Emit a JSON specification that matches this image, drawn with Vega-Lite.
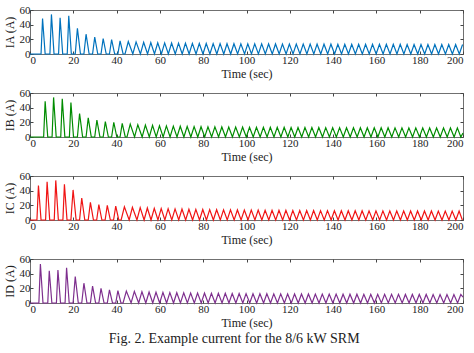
{
"$schema":"https://vega.github.io/schema/vega-lite/v6.json",
"padding":{"left":2,"top":3,"right":8,"bottom":0},
"spacing":6,
"config":{"font":"Liberation Serif","view":{"stroke":"#707070","strokeWidth":1},
"axis":{"grid":false,"domain":false,"labelFont":"Liberation Serif","labelFontSize":11,"labelColor":"#222","titleFont":"Liberation Serif","titleFontSize":12,"titleFontWeight":"normal","titleColor":"#222","tickColor":"#444","tickSize":-3,"labelPadding":3,"titlePadding":3}},
"title":{"text":"Fig. 2. Example current for the 8/6 kW SRM","orient":"bottom","anchor":"middle","font":"Liberation Serif","fontSize":14,"fontWeight":"normal","color":"#222","offset":3},
"data":{"values":[
{"p":"A","t":0,"y":0},{"p":"A","t":5.1,"y":0},{"p":"A","t":5.8,"y":48.5},{"p":"A","t":7.0,"y":0},{"p":"A","t":9.2,"y":0},{"p":"A","t":9.9,"y":54},{"p":"A","t":11.1,"y":0},{"p":"A","t":13.2,"y":0},{"p":"A","t":13.9,"y":49.5},{"p":"A","t":15.1,"y":0},{"p":"A","t":17.2,"y":0},{"p":"A","t":17.9,"y":52},{"p":"A","t":19.1,"y":0},{"p":"A","t":20.9,"y":0},{"p":"A","t":21.9,"y":35},{"p":"A","t":23.3,"y":0},{"p":"A","t":24.9,"y":0},{"p":"A","t":25.9,"y":27},{"p":"A","t":27.3,"y":0},{"p":"A","t":28.9,"y":0},{"p":"A","t":29.9,"y":23},{"p":"A","t":31.3,"y":0},{"p":"A","t":32.8,"y":0},{"p":"A","t":33.8,"y":21},{"p":"A","t":35.2,"y":0},{"p":"A","t":36.7,"y":0},{"p":"A","t":37.7,"y":19.5},{"p":"A","t":39.1,"y":0},{"p":"A","t":40.6,"y":0},{"p":"A","t":41.6,"y":18},{"p":"A","t":43.0,"y":0},
{"p":"A","t":43.9,"y":0},{"p":"A","t":45.4,"y":17},{"p":"A","t":47.5,"y":0},{"p":"A","t":49.0,"y":16.5},{"p":"A","t":51.0,"y":0},{"p":"A","t":52.5,"y":16},{"p":"A","t":54.3,"y":0},{"p":"A","t":55.8,"y":15.6},{"p":"A","t":57.5,"y":0},{"p":"A","t":59.0,"y":15.3},
{"p":"A","t":60.7,"y":0},{"p":"A","t":62.2,"y":15.1},{"p":"A","t":63.9,"y":0},{"p":"A","t":65.4,"y":15},{"p":"A","t":67.1,"y":0},{"p":"A","t":68.6,"y":14.8},{"p":"A","t":70.3,"y":0},{"p":"A","t":71.8,"y":14.6},{"p":"A","t":73.5,"y":0},{"p":"A","t":75.0,"y":14.5},{"p":"A","t":76.7,"y":0},{"p":"A","t":78.2,"y":14.4},{"p":"A","t":79.9,"y":0},{"p":"A","t":81.4,"y":14.3},{"p":"A","t":83.1,"y":0},{"p":"A","t":84.6,"y":14.2},{"p":"A","t":86.3,"y":0},{"p":"A","t":87.8,"y":14.1},{"p":"A","t":89.5,"y":0},{"p":"A","t":91.0,"y":14},{"p":"A","t":92.7,"y":0},{"p":"A","t":94.2,"y":14},{"p":"A","t":95.9,"y":0},{"p":"A","t":97.4,"y":13.9},{"p":"A","t":99.1,"y":0},{"p":"A","t":100.6,"y":13.9},{"p":"A","t":102.3,"y":0},{"p":"A","t":103.8,"y":13.8},{"p":"A","t":105.5,"y":0},{"p":"A","t":107.0,"y":13.8},{"p":"A","t":108.7,"y":0},{"p":"A","t":110.2,"y":13.7},{"p":"A","t":111.9,"y":0},{"p":"A","t":113.4,"y":13.7},{"p":"A","t":115.1,"y":0},{"p":"A","t":116.6,"y":13.6},{"p":"A","t":118.3,"y":0},{"p":"A","t":119.8,"y":13.6},{"p":"A","t":121.5,"y":0},{"p":"A","t":123.0,"y":13.5},{"p":"A","t":124.7,"y":0},{"p":"A","t":126.2,"y":13.5},{"p":"A","t":127.9,"y":0},{"p":"A","t":129.4,"y":13.5},{"p":"A","t":131.1,"y":0},{"p":"A","t":132.6,"y":13.4},{"p":"A","t":134.3,"y":0},{"p":"A","t":135.8,"y":13.4},{"p":"A","t":137.5,"y":0},{"p":"A","t":139.0,"y":13.4},{"p":"A","t":140.7,"y":0},{"p":"A","t":142.2,"y":13.3},{"p":"A","t":143.9,"y":0},{"p":"A","t":145.4,"y":13.3},{"p":"A","t":147.1,"y":0},{"p":"A","t":148.6,"y":13.3},{"p":"A","t":150.3,"y":0},{"p":"A","t":151.8,"y":13.2},{"p":"A","t":153.5,"y":0},{"p":"A","t":155.0,"y":13.2},{"p":"A","t":156.7,"y":0},{"p":"A","t":158.2,"y":13.2},{"p":"A","t":159.9,"y":0},{"p":"A","t":161.4,"y":13.1},{"p":"A","t":163.1,"y":0},{"p":"A","t":164.6,"y":13.1},{"p":"A","t":166.3,"y":0},{"p":"A","t":167.8,"y":13.1},{"p":"A","t":169.5,"y":0},{"p":"A","t":171.0,"y":13.1},{"p":"A","t":172.7,"y":0},{"p":"A","t":174.2,"y":13},{"p":"A","t":175.9,"y":0},{"p":"A","t":177.4,"y":13},{"p":"A","t":179.1,"y":0},{"p":"A","t":180.6,"y":13},{"p":"A","t":182.3,"y":0},{"p":"A","t":183.8,"y":13},{"p":"A","t":185.5,"y":0},{"p":"A","t":187.0,"y":13},{"p":"A","t":188.7,"y":0},{"p":"A","t":190.2,"y":12.9},{"p":"A","t":191.9,"y":0},{"p":"A","t":193.4,"y":12.9},{"p":"A","t":195.1,"y":0},{"p":"A","t":196.6,"y":12.9},{"p":"A","t":198.3,"y":0},{"p":"A","t":199.8,"y":12.9},
{"p":"B","t":0,"y":0},{"p":"B","t":6.3,"y":0},{"p":"B","t":7.0,"y":48.6},{"p":"B","t":8.2,"y":0},{"p":"B","t":10.2,"y":0},{"p":"B","t":10.9,"y":54},{"p":"B","t":12.1,"y":0},{"p":"B","t":14.2,"y":0},{"p":"B","t":14.9,"y":52},{"p":"B","t":16.1,"y":0},{"p":"B","t":18.2,"y":0},{"p":"B","t":18.9,"y":47},{"p":"B","t":20.1,"y":0},{"p":"B","t":21.9,"y":0},{"p":"B","t":22.9,"y":32},{"p":"B","t":24.3,"y":0},{"p":"B","t":25.9,"y":0},{"p":"B","t":26.9,"y":26},{"p":"B","t":28.3,"y":0},{"p":"B","t":29.9,"y":0},{"p":"B","t":30.9,"y":23},{"p":"B","t":32.3,"y":0},{"p":"B","t":33.8,"y":0},{"p":"B","t":34.8,"y":21},{"p":"B","t":36.2,"y":0},{"p":"B","t":37.7,"y":0},{"p":"B","t":38.7,"y":20},{"p":"B","t":40.1,"y":0},{"p":"B","t":41.6,"y":0},{"p":"B","t":42.6,"y":18.5},{"p":"B","t":44.0,"y":0},
{"p":"B","t":44.8,"y":0},{"p":"B","t":46.3,"y":17.5},{"p":"B","t":48.3,"y":0},{"p":"B","t":49.8,"y":16.8},{"p":"B","t":51.8,"y":0},{"p":"B","t":53.3,"y":16.2},{"p":"B","t":55.1,"y":0},{"p":"B","t":56.6,"y":15.8},{"p":"B","t":58.3,"y":0},{"p":"B","t":59.8,"y":15.4},
{"p":"B","t":61.5,"y":0},{"p":"B","t":63.0,"y":15.1},{"p":"B","t":64.7,"y":0},{"p":"B","t":66.2,"y":14.8},{"p":"B","t":67.9,"y":0},{"p":"B","t":69.4,"y":14.6},{"p":"B","t":71.1,"y":0},{"p":"B","t":72.6,"y":14.4},{"p":"B","t":74.3,"y":0},{"p":"B","t":75.8,"y":14.2},{"p":"B","t":77.5,"y":0},{"p":"B","t":79.0,"y":14.0},{"p":"B","t":80.7,"y":0},{"p":"B","t":82.2,"y":13.9},{"p":"B","t":83.9,"y":0},{"p":"B","t":85.4,"y":13.8},{"p":"B","t":87.1,"y":0},{"p":"B","t":88.6,"y":13.7},{"p":"B","t":90.3,"y":0},{"p":"B","t":91.8,"y":13.6},{"p":"B","t":93.5,"y":0},{"p":"B","t":95.0,"y":13.5},{"p":"B","t":96.7,"y":0},{"p":"B","t":98.2,"y":13.4},{"p":"B","t":99.9,"y":0},{"p":"B","t":101.4,"y":13.3},{"p":"B","t":103.1,"y":0},{"p":"B","t":104.6,"y":13.3},{"p":"B","t":106.3,"y":0},{"p":"B","t":107.8,"y":13.2},{"p":"B","t":109.5,"y":0},{"p":"B","t":111.0,"y":13.2},{"p":"B","t":112.7,"y":0},{"p":"B","t":114.2,"y":13.1},{"p":"B","t":115.9,"y":0},{"p":"B","t":117.4,"y":13.1},{"p":"B","t":119.1,"y":0},{"p":"B","t":120.6,"y":13.0},{"p":"B","t":122.3,"y":0},{"p":"B","t":123.8,"y":13.0},{"p":"B","t":125.5,"y":0},{"p":"B","t":127.0,"y":12.9},{"p":"B","t":128.7,"y":0},{"p":"B","t":130.2,"y":12.9},{"p":"B","t":131.9,"y":0},{"p":"B","t":133.4,"y":12.9},{"p":"B","t":135.1,"y":0},{"p":"B","t":136.6,"y":12.8},{"p":"B","t":138.3,"y":0},{"p":"B","t":139.8,"y":12.8},{"p":"B","t":141.5,"y":0},{"p":"B","t":143.0,"y":12.8},{"p":"B","t":144.7,"y":0},{"p":"B","t":146.2,"y":12.7},{"p":"B","t":147.9,"y":0},{"p":"B","t":149.4,"y":12.7},{"p":"B","t":151.1,"y":0},{"p":"B","t":152.6,"y":12.7},{"p":"B","t":154.3,"y":0},{"p":"B","t":155.8,"y":12.6},{"p":"B","t":157.5,"y":0},{"p":"B","t":159.0,"y":12.6},{"p":"B","t":160.7,"y":0},{"p":"B","t":162.2,"y":12.6},{"p":"B","t":163.9,"y":0},{"p":"B","t":165.4,"y":12.6},{"p":"B","t":167.1,"y":0},{"p":"B","t":168.6,"y":12.5},{"p":"B","t":170.3,"y":0},{"p":"B","t":171.8,"y":12.5},{"p":"B","t":173.5,"y":0},{"p":"B","t":175.0,"y":12.5},{"p":"B","t":176.7,"y":0},{"p":"B","t":178.2,"y":12.5},{"p":"B","t":179.9,"y":0},{"p":"B","t":181.4,"y":12.5},{"p":"B","t":183.1,"y":0},{"p":"B","t":184.6,"y":12.4},{"p":"B","t":186.3,"y":0},{"p":"B","t":187.8,"y":12.4},{"p":"B","t":189.5,"y":0},{"p":"B","t":191.0,"y":12.4},{"p":"B","t":192.7,"y":0},{"p":"B","t":194.2,"y":12.4},{"p":"B","t":195.9,"y":0},{"p":"B","t":197.4,"y":12.4},{"p":"B","t":199.0,"y":0},{"p":"B","t":200,"y":5.5},
{"p":"C","t":0,"y":0},{"p":"C","t":3.2,"y":0},{"p":"C","t":3.9,"y":47},{"p":"C","t":5.1,"y":0},{"p":"C","t":7.2,"y":0},{"p":"C","t":7.9,"y":52},{"p":"C","t":9.1,"y":0},{"p":"C","t":11.2,"y":0},{"p":"C","t":11.9,"y":54},{"p":"C","t":13.1,"y":0},{"p":"C","t":15.2,"y":0},{"p":"C","t":15.9,"y":48.6},{"p":"C","t":17.1,"y":0},{"p":"C","t":18.9,"y":0},{"p":"C","t":19.9,"y":41},{"p":"C","t":21.3,"y":0},{"p":"C","t":22.9,"y":0},{"p":"C","t":23.9,"y":30},{"p":"C","t":25.3,"y":0},{"p":"C","t":26.9,"y":0},{"p":"C","t":27.9,"y":24},{"p":"C","t":29.3,"y":0},{"p":"C","t":30.8,"y":0},{"p":"C","t":31.8,"y":21},{"p":"C","t":33.2,"y":0},{"p":"C","t":34.7,"y":0},{"p":"C","t":35.7,"y":20},{"p":"C","t":37.1,"y":0},{"p":"C","t":38.6,"y":0},{"p":"C","t":39.6,"y":19},{"p":"C","t":41.0,"y":0},
{"p":"C","t":42.1,"y":0},{"p":"C","t":43.6,"y":18},{"p":"C","t":45.8,"y":0},{"p":"C","t":47.3,"y":17.3},{"p":"C","t":49.4,"y":0},{"p":"C","t":50.9,"y":16.8},{"p":"C","t":52.7,"y":0},{"p":"C","t":54.2,"y":16.4},{"p":"C","t":55.9,"y":0},{"p":"C","t":57.4,"y":16},
{"p":"C","t":59.1,"y":0},{"p":"C","t":60.6,"y":15.7},{"p":"C","t":62.3,"y":0},{"p":"C","t":63.8,"y":15.4},{"p":"C","t":65.5,"y":0},{"p":"C","t":67.0,"y":15.1},{"p":"C","t":68.7,"y":0},{"p":"C","t":70.2,"y":14.9},{"p":"C","t":71.9,"y":0},{"p":"C","t":73.4,"y":14.7},{"p":"C","t":75.1,"y":0},{"p":"C","t":76.6,"y":14.5},{"p":"C","t":78.3,"y":0},{"p":"C","t":79.8,"y":14.3},{"p":"C","t":81.5,"y":0},{"p":"C","t":83.0,"y":14.1},{"p":"C","t":84.7,"y":0},{"p":"C","t":86.2,"y":14.0},{"p":"C","t":87.9,"y":0},{"p":"C","t":89.4,"y":13.9},{"p":"C","t":91.1,"y":0},{"p":"C","t":92.6,"y":13.8},{"p":"C","t":94.3,"y":0},{"p":"C","t":95.8,"y":13.7},{"p":"C","t":97.5,"y":0},{"p":"C","t":99.0,"y":13.6},{"p":"C","t":100.7,"y":0},{"p":"C","t":102.2,"y":13.5},{"p":"C","t":103.9,"y":0},{"p":"C","t":105.4,"y":13.4},{"p":"C","t":107.1,"y":0},{"p":"C","t":108.6,"y":13.3},{"p":"C","t":110.3,"y":0},{"p":"C","t":111.8,"y":13.2},{"p":"C","t":113.5,"y":0},{"p":"C","t":115.0,"y":13.2},{"p":"C","t":116.7,"y":0},{"p":"C","t":118.2,"y":13.1},{"p":"C","t":119.9,"y":0},{"p":"C","t":121.4,"y":13.0},{"p":"C","t":123.1,"y":0},{"p":"C","t":124.6,"y":13.0},{"p":"C","t":126.3,"y":0},{"p":"C","t":127.8,"y":12.9},{"p":"C","t":129.5,"y":0},{"p":"C","t":131.0,"y":12.9},{"p":"C","t":132.7,"y":0},{"p":"C","t":134.2,"y":12.8},{"p":"C","t":135.9,"y":0},{"p":"C","t":137.4,"y":12.8},{"p":"C","t":139.1,"y":0},{"p":"C","t":140.6,"y":12.7},{"p":"C","t":142.3,"y":0},{"p":"C","t":143.8,"y":12.7},{"p":"C","t":145.5,"y":0},{"p":"C","t":147.0,"y":12.6},{"p":"C","t":148.7,"y":0},{"p":"C","t":150.2,"y":12.6},{"p":"C","t":151.9,"y":0},{"p":"C","t":153.4,"y":12.6},{"p":"C","t":155.1,"y":0},{"p":"C","t":156.6,"y":12.5},{"p":"C","t":158.3,"y":0},{"p":"C","t":159.8,"y":12.5},{"p":"C","t":161.5,"y":0},{"p":"C","t":163.0,"y":12.5},{"p":"C","t":164.7,"y":0},{"p":"C","t":166.2,"y":12.4},{"p":"C","t":167.9,"y":0},{"p":"C","t":169.4,"y":12.4},{"p":"C","t":171.1,"y":0},{"p":"C","t":172.6,"y":12.4},{"p":"C","t":174.3,"y":0},{"p":"C","t":175.8,"y":12.3},{"p":"C","t":177.5,"y":0},{"p":"C","t":179.0,"y":12.3},{"p":"C","t":180.7,"y":0},{"p":"C","t":182.2,"y":12.3},{"p":"C","t":183.9,"y":0},{"p":"C","t":185.4,"y":12.3},{"p":"C","t":187.1,"y":0},{"p":"C","t":188.6,"y":12.2},{"p":"C","t":190.3,"y":0},{"p":"C","t":191.8,"y":12.2},{"p":"C","t":193.5,"y":0},{"p":"C","t":195.0,"y":12.2},{"p":"C","t":196.7,"y":0},{"p":"C","t":198.2,"y":12.2},{"p":"C","t":199.7,"y":0},
{"p":"D","t":0,"y":0},{"p":"D","t":4.1,"y":0},{"p":"D","t":4.8,"y":53},{"p":"D","t":6.0,"y":0},{"p":"D","t":8.2,"y":0},{"p":"D","t":8.9,"y":44},{"p":"D","t":10.1,"y":0},{"p":"D","t":12.2,"y":0},{"p":"D","t":12.9,"y":45},{"p":"D","t":14.1,"y":0},{"p":"D","t":16.2,"y":0},{"p":"D","t":16.9,"y":48},{"p":"D","t":18.1,"y":0},{"p":"D","t":19.9,"y":0},{"p":"D","t":20.9,"y":36},{"p":"D","t":22.3,"y":0},{"p":"D","t":23.9,"y":0},{"p":"D","t":24.9,"y":27},{"p":"D","t":26.3,"y":0},{"p":"D","t":27.9,"y":0},{"p":"D","t":28.9,"y":23},{"p":"D","t":30.3,"y":0},{"p":"D","t":31.8,"y":0},{"p":"D","t":32.8,"y":20},{"p":"D","t":34.2,"y":0},{"p":"D","t":35.7,"y":0},{"p":"D","t":36.7,"y":18},{"p":"D","t":38.1,"y":0},{"p":"D","t":39.6,"y":0},{"p":"D","t":40.6,"y":17},{"p":"D","t":42.0,"y":0},
{"p":"D","t":43.0,"y":0},{"p":"D","t":44.5,"y":16.3},{"p":"D","t":46.7,"y":0},{"p":"D","t":48.2,"y":15.8},{"p":"D","t":50.2,"y":0},{"p":"D","t":51.7,"y":15.4},{"p":"D","t":53.5,"y":0},{"p":"D","t":55.0,"y":15},{"p":"D","t":56.7,"y":0},{"p":"D","t":58.2,"y":14.7},
{"p":"D","t":59.9,"y":0},{"p":"D","t":61.4,"y":14.4},{"p":"D","t":63.1,"y":0},{"p":"D","t":64.6,"y":14.2},{"p":"D","t":66.3,"y":0},{"p":"D","t":67.8,"y":14.0},{"p":"D","t":69.5,"y":0},{"p":"D","t":71.0,"y":13.8},{"p":"D","t":72.7,"y":0},{"p":"D","t":74.2,"y":13.6},{"p":"D","t":75.9,"y":0},{"p":"D","t":77.4,"y":13.5},{"p":"D","t":79.1,"y":0},{"p":"D","t":80.6,"y":13.4},{"p":"D","t":82.3,"y":0},{"p":"D","t":83.8,"y":13.3},{"p":"D","t":85.5,"y":0},{"p":"D","t":87.0,"y":13.2},{"p":"D","t":88.7,"y":0},{"p":"D","t":90.2,"y":13.1},{"p":"D","t":91.9,"y":0},{"p":"D","t":93.4,"y":13.0},{"p":"D","t":95.1,"y":0},{"p":"D","t":96.6,"y":12.9},{"p":"D","t":98.3,"y":0},{"p":"D","t":99.8,"y":12.8},{"p":"D","t":101.5,"y":0},{"p":"D","t":103.0,"y":12.7},{"p":"D","t":104.7,"y":0},{"p":"D","t":106.2,"y":12.7},{"p":"D","t":107.9,"y":0},{"p":"D","t":109.4,"y":12.6},{"p":"D","t":111.1,"y":0},{"p":"D","t":112.6,"y":12.5},{"p":"D","t":114.3,"y":0},{"p":"D","t":115.8,"y":12.5},{"p":"D","t":117.5,"y":0},{"p":"D","t":119.0,"y":12.4},{"p":"D","t":120.7,"y":0},{"p":"D","t":122.2,"y":12.4},{"p":"D","t":123.9,"y":0},{"p":"D","t":125.4,"y":12.3},{"p":"D","t":127.1,"y":0},{"p":"D","t":128.6,"y":12.3},{"p":"D","t":130.3,"y":0},{"p":"D","t":131.8,"y":12.2},{"p":"D","t":133.5,"y":0},{"p":"D","t":135.0,"y":12.2},{"p":"D","t":136.7,"y":0},{"p":"D","t":138.2,"y":12.1},{"p":"D","t":139.9,"y":0},{"p":"D","t":141.4,"y":12.1},{"p":"D","t":143.1,"y":0},{"p":"D","t":144.6,"y":12.0},{"p":"D","t":146.3,"y":0},{"p":"D","t":147.8,"y":12.0},{"p":"D","t":149.5,"y":0},{"p":"D","t":151.0,"y":12.0},{"p":"D","t":152.7,"y":0},{"p":"D","t":154.2,"y":11.9},{"p":"D","t":155.9,"y":0},{"p":"D","t":157.4,"y":11.9},{"p":"D","t":159.1,"y":0},{"p":"D","t":160.6,"y":11.9},{"p":"D","t":162.3,"y":0},{"p":"D","t":163.8,"y":11.8},{"p":"D","t":165.5,"y":0},{"p":"D","t":167.0,"y":11.8},{"p":"D","t":168.7,"y":0},{"p":"D","t":170.2,"y":11.8},{"p":"D","t":171.9,"y":0},{"p":"D","t":173.4,"y":11.7},{"p":"D","t":175.1,"y":0},{"p":"D","t":176.6,"y":11.7},{"p":"D","t":178.3,"y":0},{"p":"D","t":179.8,"y":11.7},{"p":"D","t":181.5,"y":0},{"p":"D","t":183.0,"y":11.7},{"p":"D","t":184.7,"y":0},{"p":"D","t":186.2,"y":11.6},{"p":"D","t":187.9,"y":0},{"p":"D","t":189.4,"y":11.6},{"p":"D","t":191.1,"y":0},{"p":"D","t":192.6,"y":11.6},{"p":"D","t":194.3,"y":0},{"p":"D","t":195.8,"y":11.6},{"p":"D","t":197.5,"y":0},{"p":"D","t":199.0,"y":11.6},{"p":"D","t":200,"y":8}
]},
"vconcat":[
{"width":433,"height":44,"transform":[{"filter":"datum.p=='A'"}],
"layer":[
{"mark":{"type":"line","color":"#0072BD","strokeWidth":1.2},"encoding":{"x":{"field":"t","type":"quantitative","scale":{"domain":[0,200],"nice":false},"axis":{"values":[0,20,40,60,80,100,120,140,160,180,200],"title":"Time (sec)"}},"y":{"field":"y","type":"quantitative","scale":{"domain":[0,60],"nice":false},"axis":{"values":[0,20,40,60],"title":"IA (A)"}}}},
{"mark":{"type":"line","opacity":0},"encoding":{"x":{"field":"t","type":"quantitative","axis":{"orient":"top","labels":false,"title":null,"values":[0,20,40,60,80,100,120,140,160,180,200]}},"y":{"field":"y","type":"quantitative","axis":{"orient":"right","labels":false,"title":null,"values":[0,20,40,60]}}}}
],"resolve":{"axis":{"x":"independent","y":"independent"}}},
{"width":433,"height":44,"transform":[{"filter":"datum.p=='B'"}],
"layer":[
{"mark":{"type":"line","color":"#008C00","strokeWidth":1.2},"encoding":{"x":{"field":"t","type":"quantitative","scale":{"domain":[0,200],"nice":false},"axis":{"values":[0,20,40,60,80,100,120,140,160,180,200],"title":"Time (sec)"}},"y":{"field":"y","type":"quantitative","scale":{"domain":[0,60],"nice":false},"axis":{"values":[0,20,40,60],"title":"IB (A)"}}}},
{"mark":{"type":"line","opacity":0},"encoding":{"x":{"field":"t","type":"quantitative","axis":{"orient":"top","labels":false,"title":null,"values":[0,20,40,60,80,100,120,140,160,180,200]}},"y":{"field":"y","type":"quantitative","axis":{"orient":"right","labels":false,"title":null,"values":[0,20,40,60]}}}}
],"resolve":{"axis":{"x":"independent","y":"independent"}}},
{"width":433,"height":44,"transform":[{"filter":"datum.p=='C'"}],
"layer":[
{"mark":{"type":"line","color":"#F01414","strokeWidth":1.2},"encoding":{"x":{"field":"t","type":"quantitative","scale":{"domain":[0,200],"nice":false},"axis":{"values":[0,20,40,60,80,100,120,140,160,180,200],"title":"Time (sec)"}},"y":{"field":"y","type":"quantitative","scale":{"domain":[0,60],"nice":false},"axis":{"values":[0,20,40,60],"title":"IC (A)"}}}},
{"mark":{"type":"line","opacity":0},"encoding":{"x":{"field":"t","type":"quantitative","axis":{"orient":"top","labels":false,"title":null,"values":[0,20,40,60,80,100,120,140,160,180,200]}},"y":{"field":"y","type":"quantitative","axis":{"orient":"right","labels":false,"title":null,"values":[0,20,40,60]}}}}
],"resolve":{"axis":{"x":"independent","y":"independent"}}},
{"width":433,"height":44,"transform":[{"filter":"datum.p=='D'"}],
"layer":[
{"mark":{"type":"line","color":"#7E2F8E","strokeWidth":1.2},"encoding":{"x":{"field":"t","type":"quantitative","scale":{"domain":[0,200],"nice":false},"axis":{"values":[0,20,40,60,80,100,120,140,160,180,200],"title":"Time (sec)"}},"y":{"field":"y","type":"quantitative","scale":{"domain":[0,60],"nice":false},"axis":{"values":[0,20,40,60],"title":"ID (A)"}}}},
{"mark":{"type":"line","opacity":0},"encoding":{"x":{"field":"t","type":"quantitative","axis":{"orient":"top","labels":false,"title":null,"values":[0,20,40,60,80,100,120,140,160,180,200]}},"y":{"field":"y","type":"quantitative","axis":{"orient":"right","labels":false,"title":null,"values":[0,20,40,60]}}}}
],"resolve":{"axis":{"x":"independent","y":"independent"}}}
]
}
